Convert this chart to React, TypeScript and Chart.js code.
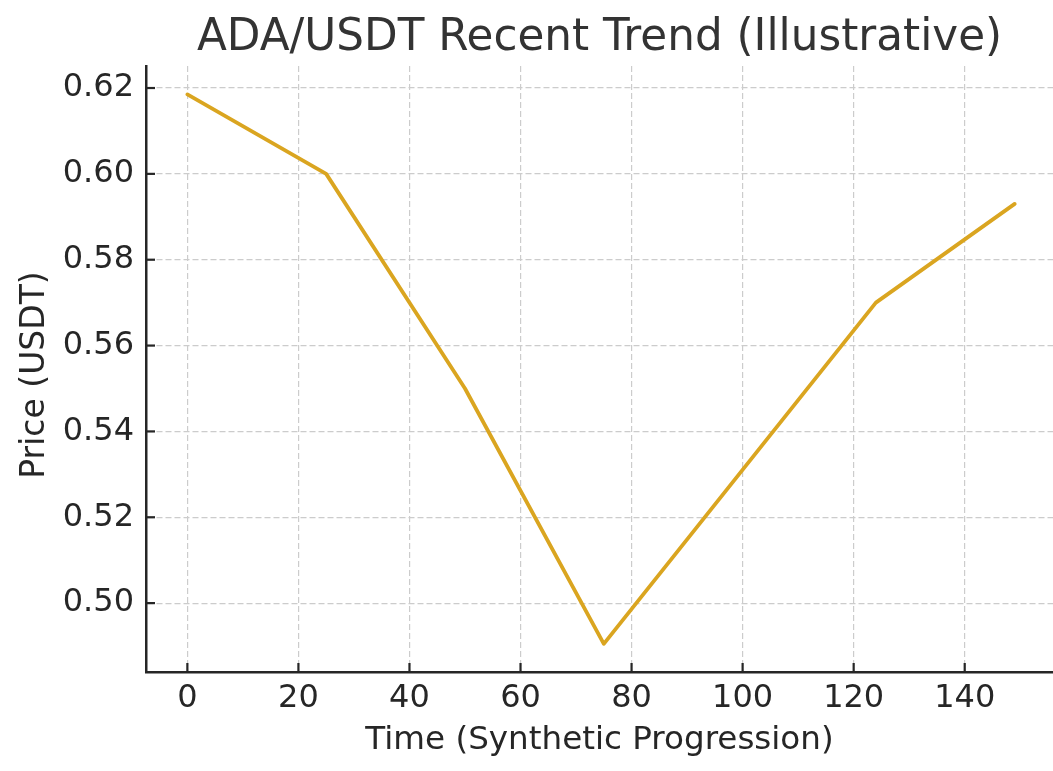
import React, { useEffect, useRef } from "react";
import { Chart, registerables } from "chart.js";

Chart.register(...registerables);

const TITLE = "ADA/USDT Recent Trend (Illustrative)";
const X_LABEL = "Time (Synthetic Progression)";
const Y_LABEL = "Price (USDT)";

const timeSteps = [0, 25, 50, 75, 124, 149];
const prices = [0.6185, 0.6, 0.55, 0.4905, 0.57, 0.593];

const xTicks = [0, 20, 40, 60, 80, 100, 120, 140];
const yTicks = [0.5, 0.52, 0.54, 0.56, 0.58, 0.6, 0.62];

const X_MIN = -7.45;
const X_MAX = 155.9;
const Y_MIN = 0.48395;
const Y_MAX = 0.62512;

const FONT = "'DejaVu Sans', sans-serif";
const LINE_COLOR = "#DAA520";
const AXIS_COLOR = "#262626";

const innerTicks = {
  id: "innerTicks",
  afterDatasetsDraw(chart: any) {
    const { ctx, chartArea } = chart;
    const xs = chart.scales.x;
    const ys = chart.scales.y;
    ctx.save();
    ctx.strokeStyle = AXIS_COLOR;
    ctx.lineWidth = 2.2;
    ctx.setLineDash([]);
    for (const t of xTicks) {
      const px = xs.getPixelForValue(t);
      ctx.beginPath();
      ctx.moveTo(px, chartArea.bottom);
      ctx.lineTo(px, chartArea.bottom - 9);
      ctx.stroke();
    }
    for (const t of yTicks) {
      const py = ys.getPixelForValue(t);
      ctx.beginPath();
      ctx.moveTo(chartArea.left, py);
      ctx.lineTo(chartArea.left + 9, py);
      ctx.stroke();
    }
    ctx.restore();
  },
};

const yAxisTitle = {
  id: "yAxisTitle",
  afterDraw(chart: any) {
    const { ctx, chartArea } = chart;
    const cy = (chartArea.top + chartArea.bottom) / 2 + 6;
    ctx.save();
    ctx.translate(35.5, cy);
    ctx.rotate(-Math.PI / 2);
    ctx.fillStyle = AXIS_COLOR;
    ctx.font = `33px ${FONT}`;
    ctx.textAlign = "center";
    ctx.textBaseline = "middle";
    ctx.fillText(Y_LABEL, 0, 0);
    ctx.restore();
  },
};

export default function App() {
  const ref = useRef<HTMLCanvasElement | null>(null);

  useEffect(() => {
    if (!ref.current) return;
    const chart = new Chart(ref.current, {
      type: "scatter",
      data: {
        datasets: [
          {
            data: timeSteps.map((t, i) => ({ x: t, y: prices[i] })),
            showLine: true,
            borderColor: LINE_COLOR,
            backgroundColor: LINE_COLOR,
            borderWidth: 3.8,
            pointRadius: 0,
            pointHoverRadius: 0,
            tension: 0,
            borderJoinStyle: "round",
            borderCapStyle: "round",
          } as any,
        ],
      },
      options: {
        animation: false,
        responsive: true,
        maintainAspectRatio: false,
        layout: { padding: 0 },
        plugins: {
          legend: { display: false },
          tooltip: { enabled: false },
          title: {
            display: true,
            text: TITLE,
            fullSize: false,
            color: "#333333",
            font: { family: FONT, size: 43.7, weight: "normal" },
            padding: { top: 12, bottom: 1.6 },
          },
        },
        scales: {
          x: {
            type: "linear",
            min: X_MIN,
            max: X_MAX,
            afterBuildTicks: (s: any) => {
              s.ticks = xTicks.map((v) => ({ value: v }));
            },
            afterFit: (s: any) => {
              s.height = 99;
            },
            ticks: {
              color: AXIS_COLOR,
              font: { family: FONT, size: 32 },
              padding: 7,
              maxRotation: 0,
              callback: (v: any) => String(v),
            },
            grid: {
              color: "#cccccc",
              lineWidth: 1.2,
              drawTicks: false,
            },
            border: { display: true, color: AXIS_COLOR, width: 2.5, dash: [6, 3] },
            title: {
              display: true,
              text: X_LABEL,
              color: AXIS_COLOR,
              font: { family: FONT, size: 32.6 },
              padding: { top: 0, bottom: 11 },
            },
          },
          y: {
            type: "linear",
            min: Y_MIN,
            max: Y_MAX,
            afterBuildTicks: (s: any) => {
              s.ticks = yTicks.map((v) => ({ value: v }));
            },
            afterFit: (s: any) => {
              s.width = 146;
            },
            ticks: {
              color: AXIS_COLOR,
              font: { family: FONT, size: 32 },
              padding: 12,
              callback: (v: any) => Number(v).toFixed(2),
            },
            grid: {
              color: "#cccccc",
              lineWidth: 1.2,
              drawTicks: false,
            },
            border: { display: true, color: AXIS_COLOR, width: 2.5, dash: [6, 3] },
            title: { display: false },
          },
        },
      },
      plugins: [innerTicks, yAxisTitle],
    });
    return () => chart.destroy();
  }, []);

  return (
    <div
      style={{
        position: "fixed",
        left: 0,
        top: 0,
        width: 1053,
        height: 771,
        background: "#ffffff",
      }}
    >
      <canvas ref={ref} />
    </div>
  );
}
